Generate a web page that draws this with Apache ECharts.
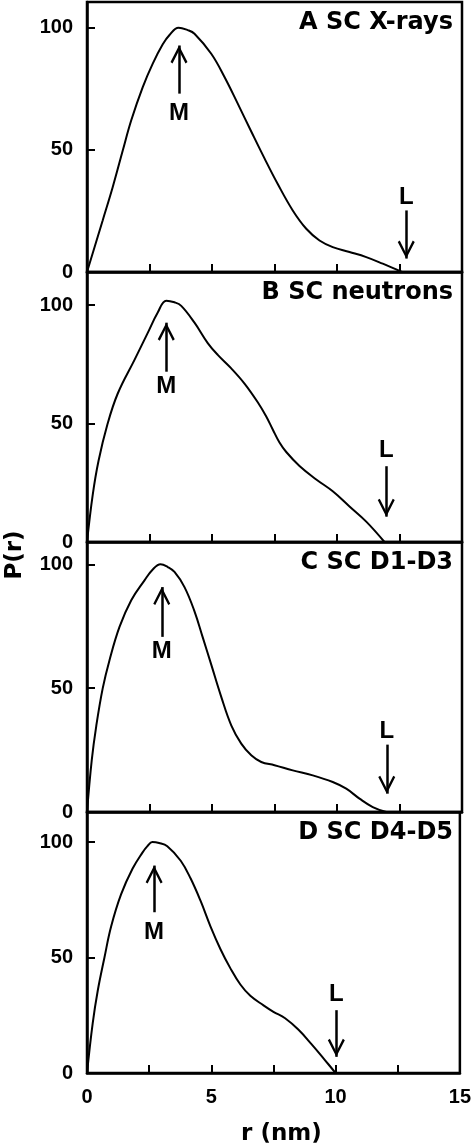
<!DOCTYPE html>
<html>
<head>
<meta charset="utf-8">
<script src="https://cdn.jsdelivr.net/npm/echarts@6/dist/echarts.min.js"></script>
<style>
html, body { margin: 0; padding: 0; background: #fff; }
#main { width: 474px; height: 1147px; }
</style>
</head>
<body>
<div id="main"></div>
<script>
// P(r) curves (r in nm, P normalised to the peak)
var rA = [0, 0.63, 1.03, 1.43, 1.77, 2.23, 2.63, 3.03, 3.3, 3.66, 4.03, 4.3, 4.97, 5.5, 6.03, 6.57, 7.1, 7.63, 8.23, 8.77, 9.3, 9.83, 10.5, 11.17, 11.83, 12.6];
var pA = [0, 21.2, 34.8, 49.7, 62.1, 75.7, 85.3, 93.2, 97, 100, 99, 97.5, 89.3, 79.8, 68.9, 57.5, 46.5, 36, 25.2, 17.7, 12.9, 10.2, 8.2, 6.1, 3.4, 0];

var rB = [0, 0.23, 0.46, 0.81, 1.23, 1.9, 2.43, 2.83, 3.17, 3.5, 3.77, 4.3, 4.83, 5.23, 5.77, 6.3, 6.83, 7.17, 7.43, 7.7, 7.97, 8.5, 9.17, 9.83, 10.5, 11.17, 11.9];
var pB = [0, 20, 34.2, 49.4, 62.7, 76.9, 88.3, 96.9, 101.9, 101.2, 99.7, 92.6, 84, 79, 73.3, 66.9, 59, 53, 47.5, 42, 38, 32.1, 26.4, 21.4, 15, 8.6, 0];

var rC = [0, 0.19, 0.37, 0.63, 0.9, 1.3, 1.77, 2.3, 2.63, 2.94, 3.23, 3.5, 3.9, 4.3, 4.63, 4.97, 5.37, 5.77, 6.17, 6.57, 6.97, 7.5, 8.23, 9.03, 9.83, 10.37, 10.9, 11.43, 11.97];
var pC = [0, 20.9, 34.7, 50, 61.3, 74.7, 85.5, 93.5, 97.9, 100, 98.9, 96.9, 90.8, 81, 70.5, 59.5, 46.5, 35, 27.6, 22.9, 20.2, 18.9, 16.8, 14.8, 12.1, 9.4, 5.4, 2, 0];

var rD = [0, 0.23, 0.43, 0.7, 0.97, 1.37, 1.83, 2.23, 2.43, 2.63, 2.9, 3.23, 3.77, 4.17, 4.57, 4.97, 5.37, 5.77, 6.17, 6.57, 7.1, 7.5, 7.97, 8.5, 9.03, 9.57, 10];
var pD = [0, 21.6, 35.5, 49.9, 63.4, 77.3, 88.4, 95.4, 98.2, 100, 99.6, 98.2, 91.9, 84.2, 74.5, 63.4, 53.6, 45.3, 38.3, 33.4, 29.3, 26.5, 23.7, 18.8, 12.5, 5.6, 0];

var panelNames = ['A SC X-rays', 'B SC neutrons', 'C SC D1-D3', 'D SC D4-D5'];

// M (maximum) arrows: position, arrow tail, arrow tip, label
var mR = [3.68, 3.17, 2.99, 2.7];
var mTail = [73, 71.9, 70.7, 69.6];
var mHead = [92.7, 92.6, 90.8, 89.8];
var mLabel = [64.9, 65.5, 64.9, 61];

// L (maximum dimension) arrows
var lR = [12.77, 11.97, 11.99, 10.03];
var lTail = [25.2, 32, 27.2, 27.2];
var lHead = [5.5, 10.7, 7.4, 7];
var lLabel = [30.7, 38.5, 32.6, 34.1];

var xTicks = [0, 5, 10, 15];
var yTicks = [0, 50, 100];
var yMax = [110.5, 114, 109, 113];

var rAll = [rA, rB, rC, rD];
var pAll = [pA, pB, pC, pD];

// layout
var gridTops = [2, 272, 542, 812];
var gridH = 270;
// open arrow head, pointing up
var chevron = 'path://M0,15.5 L8.5,0 L17,15.5 L15,16.8 L8.5,4.8 L2,16.8 Z';

var tickFont = { color: '#000', fontWeight: 'bold', fontSize: 20, fontFamily: 'Liberation Sans' };

var chart = echarts.init(document.getElementById('main'));

var option = {
    animation: false,
    backgroundColor: '#fff',
    title: panelNames.map(function (t, i) {
        return {
            text: t,
            right: 21,
            top: gridTops[i] + 9,
            padding: 0,
            textStyle: { fontFamily: 'DejaVu Sans', fontWeight: 'bold', fontSize: 24, color: '#000' }
        };
    }),
    grid: panelNames.map(function (t, i) {
        return {
            left: 87, right: 12, top: gridTops[i], height: gridH,
            show: true, borderColor: '#000', borderWidth: 2.5
        };
    }),
    xAxis: panelNames.map(function (t, i) {
        return {
            gridIndex: i,
            type: 'value',
            min: 0, max: 15, interval: 2.5,
            axisLine: { lineStyle: { color: '#000', width: 2.5 } },
            axisTick: { inside: true, length: 8, lineStyle: { color: '#000', width: 2 } },
            splitLine: { show: false },
            axisLabel: Object.assign({
                show: i === 3,
                margin: 14,
                formatter: function (v) { return xTicks.indexOf(v) >= 0 ? String(v) : ''; }
            }, tickFont),
            name: i === 3 ? 'r (nm)' : '',
            nameLocation: 'middle',
            nameGap: 50,
            nameTextStyle: {
                fontFamily: 'DejaVu Sans', fontWeight: 'bold', fontSize: 23, color: '#000',
                padding: [0, 0, 0, 16]
            }
        };
    }),
    yAxis: panelNames.map(function (t, i) {
        return {
            gridIndex: i,
            type: 'value',
            min: 0, max: yMax[i], interval: 50,
            axisLine: { lineStyle: { color: '#000', width: 2.5 } },
            axisTick: { inside: true, length: 8, lineStyle: { color: '#000', width: 2 } },
            splitLine: { show: false },
            axisLabel: Object.assign({
                margin: 14,
                showMaxLabel: false,
                formatter: function (v) { return yTicks.indexOf(v) >= 0 ? String(v) : ''; }
            }, tickFont)
        };
    }),
    graphic: [{
        type: 'text',
        x: 15, y: 555,
        rotation: Math.PI / 2,
        style: {
            text: 'P(r)', align: 'center', verticalAlign: 'middle',
            fontFamily: 'DejaVu Sans', fontWeight: 'bold', fontSize: 23, fill: '#000'
        }
    }],
    series: panelNames.map(function (t, i) {
        return {
            type: 'line',
            xAxisIndex: i,
            yAxisIndex: i,
            data: rAll[i].map(function (r, k) { return [r, pAll[i][k]]; }),
            smooth: 0.4,
            showSymbol: false,
            lineStyle: { color: '#000', width: 2 },
            markLine: {
                silent: true,
                symbol: ['none', chevron],
                symbolSize: [17, 18],
                symbolOffset: [[0, 0], [0, 9]],
                lineStyle: { color: '#000', width: 2.5, type: 'solid' },
                label: { show: false },
                data: [
                    [{ coord: [mR[i], mTail[i]] }, { coord: [mR[i], mHead[i]] }],
                    [{ coord: [lR[i], lTail[i]] }, { coord: [lR[i], lHead[i]] }]
                ]
            },
            markPoint: {
                silent: true,
                symbol: 'circle',
                symbolSize: 1,
                itemStyle: { color: 'rgba(0,0,0,0)' },
                label: {
                    show: true, position: 'inside', color: '#000',
                    fontWeight: 'bold', fontSize: 24, fontFamily: 'Liberation Sans',
                    formatter: function (p) { return p.name; }
                },
                data: [
                    { name: 'M', coord: [mR[i], mLabel[i]] },
                    { name: 'L', coord: [lR[i], lLabel[i]] }
                ]
            }
        };
    })
};

chart.setOption(option);
</script>
</body>
</html>
